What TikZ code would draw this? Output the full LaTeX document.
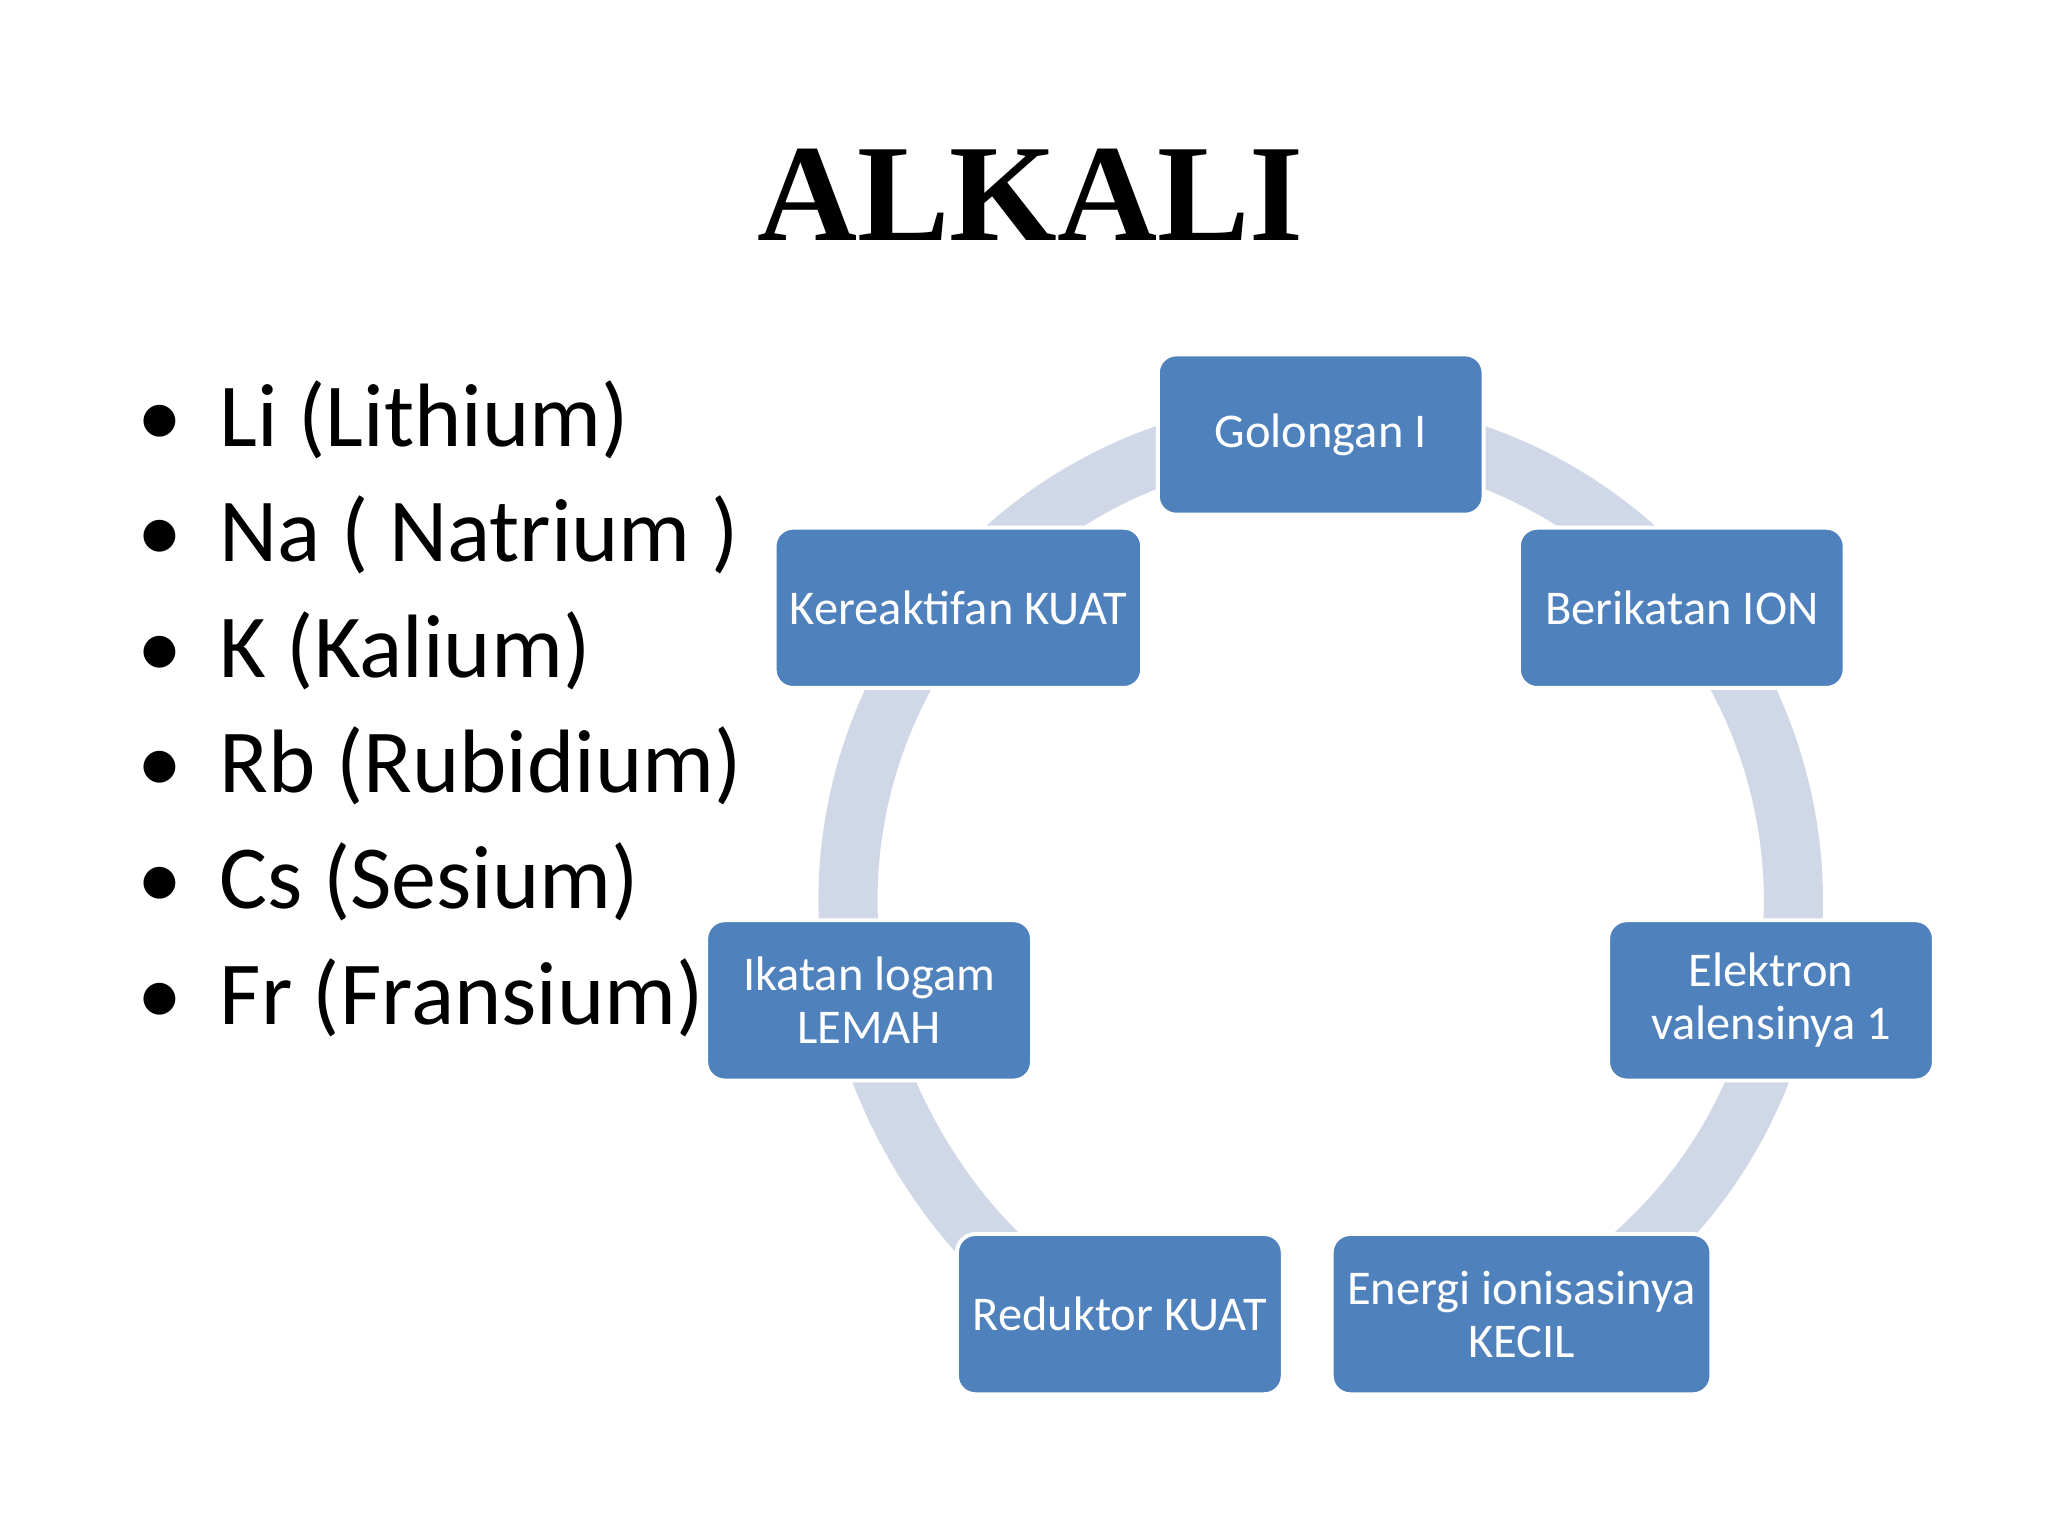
\documentclass[tikz,border=0pt]{standalone}
\usepackage{fontspec}
\setmainfont{Carlito}
\newfontfamily\titlefont{Liberation Serif}
\usetikzlibrary{arrows.meta}
\definecolor{boxblue}{RGB}{79,129,189}
\definecolor{ringc}{RGB}{208,216,232}
\begin{document}
\begin{tikzpicture}[x=0.01cm,y=-0.01cm,
  box/.style={draw=white,line width=0.03cm,fill=boxblue,rounded corners=0.14cm,
    minimum width=2.48cm,minimum height=1.22cm,text=white,align=center,
    font=\fontsize{10.5}{11.5}\selectfont},
  bul/.style={anchor=base west,font=\fontsize{19.5}{22}\selectfont}]
\useasboundingbox (0,0) rectangle (1560,1170);
\fill[white] (0,0) rectangle (1560,1170);
\node[font=\titlefont\bfseries\fontsize{30}{32}\selectfont] (title) at (785,148) {ALKALI};
\foreach \t [count=\i] in {Li (Lithium),Na ( Natrium ),K (Kalium),Rb (Rubidium),Cs (Sesium),Fr (Fransium)}{
  \node[bul] (b\i) at (155,{340+88*(\i-1)}) {\t};
  \node[bul] (d\i) at (92,{340+88*(\i-1)}) {\textbullet};
}
\coordinate (c) at (1006,686);
\draw[ringc,line width=0.45cm,-{Triangle[width=0.95cm,length=0.5cm]}]
  ([shift={(75:360)}]c) arc[start angle=75,end angle=-247,radius=360];
\node[box] (g1) at (1006,331) {Golongan I};
\node[box] (g2) at (1281,463) {Berikatan ION};
\node[box] (g3) at (1349,762) {Elektron\\valensinya 1};
\node[box] (g4) at (1159,1001) {Energi ionisasinya\\KECIL};
\node[box] (g5) at (853,1001) {Reduktor KUAT};
\node[box] (g6) at (662,762) {Ikatan logam\\LEMAH};
\node[box] (g7) at (730,463) {Kereaktifan KUAT};
\end{tikzpicture}
\end{document}
